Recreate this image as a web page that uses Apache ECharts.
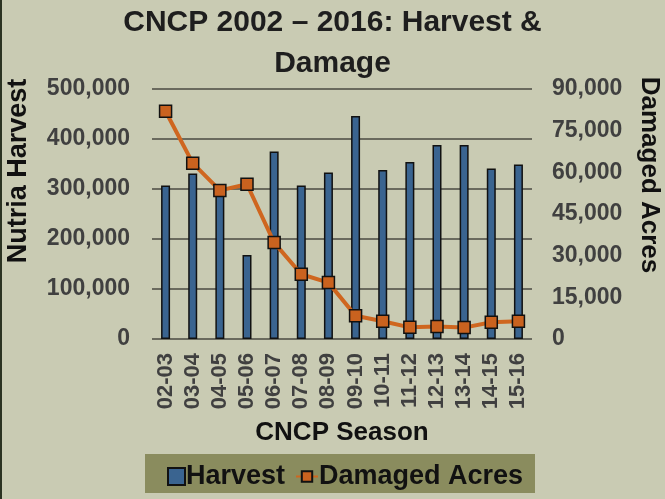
<!DOCTYPE html>
<html>
<head>
<meta charset="utf-8">
<script src="https://cdn.jsdelivr.net/npm/echarts@6/dist/echarts.min.js"></script>
<style>
    html, body { margin: 0; padding: 0; background: #c9cbb3; }
    #main { width: 665px; height: 499px; }
</style>
</head>
<body>
<div id="main"></div>
<script>
    // seasons on the x axis
    var seasons = ['02-03', '03-04', '04-05', '05-06', '06-07', '07-08', '08-09',
        '09-10', '10-11', '11-12', '12-13', '13-14', '14-15', '15-16'];
    // nutria harvest (left axis)
    var harvest = [307000, 331000, 295000, 168000, 375000, 307000, 333000,
        446000, 338000, 354000, 388000, 388000, 341000, 349000];
    // damaged acres (right axis)
    var damagedAcres = [82000, 63300, 53500, 55700, 34700, 23300, 20300,
        8400, 6400, 4200, 4500, 4100, 6000, 6400];

    var leftTicks = {min: 0, max: 500000, interval: 100000};
    var rightTicks = {min: 0, max: 90000, interval: 15000};

    function fmt(v) {
        return String(v).replace(/\B(?=(\d{3})+(?!\d))/g, ',');
    }

    var font = '"Liberation Sans", Arial, sans-serif';
    var legendText = {
        fontFamily: font,
        fontWeight: 'bold',
        fontSize: 27,
        color: '#111',
        padding: [0, 0, 0, -4]
    };

    var chart = echarts.init(document.getElementById('main'));
    var option = {
        backgroundColor: '#c9cbb3',
        animation: false,
        title: {
            text: 'CNCP 2002 – 2016: Harvest &\nDamage',
            left: 'center',
            top: 0,
            padding: [2, 0, 0, 0],
            textStyle: {
                fontFamily: font,
                fontWeight: 'bold',
                fontSize: 30,
                lineHeight: 41,
                color: '#1e1e1e'
            }
        },
        graphic: [
            {type: 'rect', left: 0, top: 0, shape: {width: 2, height: 499}, style: {fill: '#2b3322'}, z: 10},
            {type: 'rect', left: 145, top: 454, shape: {width: 390, height: 39}, style: {fill: '#8a8c5e'}, z: 0}
        ],
        // two legends so each icon gets its own size
        legend: [
            {
                left: 162,
                top: 458,
                itemWidth: 17,
                itemHeight: 17,
                textStyle: legendText,
                data: [{name: 'Harvest', icon: 'rect'}]
            },
            {
                left: 290,
                top: 458,
                itemWidth: 22,
                itemHeight: 13,
                textStyle: legendText,
                data: ['Damaged Acres']
            }
        ],
        grid: {
            left: 152,
            right: 133,
            top: 89,
            bottom: 160,
            outerBoundsMode: 'none'
        },
        xAxis: {
            type: 'category',
            data: seasons,
            name: 'CNCP Season',
            nameLocation: 'middle',
            nameGap: 81,
            nameTextStyle: {fontFamily: font, fontWeight: 'bold', fontSize: 26, color: '#111'},
            axisLine: {show: false},
            axisTick: {show: false},
            axisLabel: {
                interval: 0,
                rotate: 90,
                margin: 14,
                fontFamily: font,
                fontWeight: 'bold',
                fontSize: 22,
                color: '#404040'
            }
        },
        yAxis: [
            {
                type: 'value',
                min: leftTicks.min,
                max: leftTicks.max,
                interval: leftTicks.interval,
                name: 'Nutria Harvest',
                nameLocation: 'middle',
                nameGap: 120,
                nameTextStyle: {fontFamily: font, fontWeight: 'bold', fontSize: 27, color: '#111', padding: [0, 0, 0, 86]},
                axisLine: {show: false},
                axisTick: {show: false},
                splitLine: {lineStyle: {color: '#4a4a42', width: 1.5}},
                axisLabel: {
                    margin: 22,
                    fontFamily: font,
                    fontWeight: 'bold',
                    fontSize: 23,
                    color: '#404040',
                    formatter: fmt
                }
            },
            {
                type: 'value',
                min: rightTicks.min,
                max: rightTicks.max,
                interval: rightTicks.interval,
                name: 'Damaged Acres',
                nameLocation: 'middle',
                nameGap: 104,
                nameRotate: -90,
                nameTextStyle: {fontFamily: font, fontWeight: 'bold', fontSize: 26, color: '#111', padding: [0, 78, 0, 0]},
                axisLine: {show: false},
                axisTick: {show: false},
                splitLine: {show: false},
                axisLabel: {
                    margin: 20,
                    fontFamily: font,
                    fontWeight: 'bold',
                    fontSize: 23,
                    color: '#404040',
                    formatter: fmt
                }
            }
        ],
        series: [
            {
                name: 'Harvest',
                type: 'bar',
                data: harvest,
                barWidth: 9,
                itemStyle: {color: '#3a6490', borderColor: '#111', borderWidth: 1.5}
            },
            {
                name: 'Damaged Acres',
                type: 'line',
                yAxisIndex: 1,
                data: damagedAcres,
                symbol: 'rect',
                symbolSize: 12,
                lineStyle: {color: '#cf661f', width: 4},
                itemStyle: {color: '#c9621f', borderColor: '#111', borderWidth: 1.5}
            }
        ]
    };
    chart.setOption(option);
</script>
</body>
</html>
